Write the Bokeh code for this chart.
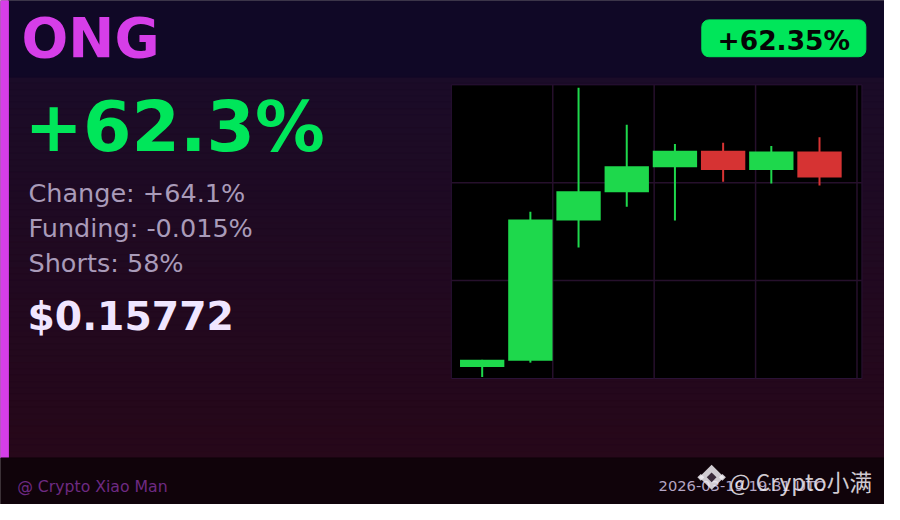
import numpy as np
from bokeh.core.properties import value
from bokeh.embed import file_html
from bokeh.models import Range1d
from bokeh.plotting import figure
from bokeh.resources import INLINE

# card texts
symbol = "ONG"
badge_text = "+62.35%"
headline = "+62.3%"
stat_lines = ["Change: +64.1%", "Funding: -0.015%", "Shorts: 58%"]
price_text = "$0.15772"
footer_left = "@ Crypto Xiao Man"
footer_right = "2026-03-19 19:31 UTC"
watermark = "@ Crypto小满"

# candles, oldest first
opens = [0.0972, 0.0992, 0.1440, 0.1530, 0.1610, 0.1663, 0.1601, 0.1660]
highs = [0.0995, 0.1468, 0.1864, 0.1746, 0.1684, 0.1688, 0.1678, 0.1706]
lows = [0.0940, 0.0986, 0.1354, 0.1484, 0.1440, 0.1564, 0.1558, 0.1552]
closes = [0.0995, 0.1443, 0.1533, 0.1613, 0.1663, 0.1601, 0.1660, 0.15772]

W, H = 900, 520          # design units
S = 884 / W              # design -> screen px
UP, DOWN = "#1ed84c", "#d63333"
FONT = "DejaVu Sans"
CJK = "Noto Sans CJK SC"


def fs(px):
    return value(f"{px * S:.1f}px")


p = figure(width=884, height=504, x_range=Range1d(0, W), y_range=Range1d(H, 0),
           x_axis_type=None, y_axis_type=None, output_backend="svg",
           toolbar_location=None, min_border=0)
p.grid.visible = False
p.outline_line_color = None
p.background_fill_color = "#10030a"
p.border_fill_color = "#10030a"

# body gradient
n = 60
ys = np.linspace(79, 472, n + 1)
c0, c1 = np.array([0x1b, 0x0c, 0x28]), np.array([0x27, 0x08, 0x1a])
cols = ["#%02x%02x%02x" % tuple(int(v) for v in c0 + (c1 - c0) * t)
        for t in np.linspace(0, 1, n)]
p.quad(left=8, right=W, top=ys[:-1], bottom=ys[1:], color=cols)

# header, accent bar, footer
p.quad(left=8, right=W, top=0, bottom=79, color="#100826")
p.quad(left=0, right=8, top=0, bottom=472, color="#d63ee8")
p.quad(left=0, right=W, top=472, bottom=520, color="#10030a")

# title + badge
p.text(x=[21.5], y=[38.6], text=[symbol], text_font=value(FONT), text_font_style="bold",
       text_font_size=fs(56), text_color="#d63ee8", text_baseline="alphabetic")
p.quad(left=714, right=881, top=20, bottom=58, color="#00e65a", border_radius=7)
p.text(x=[797.5], y=[41.5], text=[badge_text], text_font=value(FONT), text_font_style="bold",
       text_font_size=fs(27), text_color="#050505", text_align="center",
       text_baseline="alphabetic")

# left column
p.text(x=[24.5], y=[129.5], text=[headline], text_font=value(FONT), text_font_style="bold",
       text_font_size=fs(71), text_color="#00e65a", text_baseline="alphabetic")
p.text(x=[28.5] * 3, y=[199, 235, 271], text=stat_lines, text_font=value(FONT),
       text_font_size=fs(26), text_color="#a99bb9", text_baseline="alphabetic")
p.text(x=[27.5], y=[326], text=[price_text], text_font=value(FONT), text_font_style="bold",
       text_font_size=fs(40), text_color="#f0e6ff", text_baseline="alphabetic")

# candle panel
PX0, PX1, PY0, PY1 = 459, 877, 87, 390
p.quad(left=PX0, right=PX1, top=PY0, bottom=PY1, fill_color="#000000",
       line_color="#2a1236", line_width=1)
gw = (872 - PX0) / 4
gh = (PY1 - PY0) / 3
p.segment(x0=[PX0 + gw * k for k in range(1, 5)], y0=PY0,
          x1=[PX0 + gw * k for k in range(1, 5)], y1=PY1, line_color="#26102c", line_width=1.5)
p.segment(x0=PX0, y0=[PY0 + gh * k for k in (1, 2)], x1=PX1,
          y1=[PY0 + gh * k for k in (1, 2)], line_color="#26102c", line_width=1.5)

# ranges for the candles, mapped onto the panel box
idx = list(range(len(opens)))
xi0, xi1 = -0.64, len(opens) - 0.12
ymin, ymax = min(lows) * 0.995, max(highs) * 1.005
ux = (PX1 - PX0) / (xi1 - xi0)
uy = (PY1 - PY0) / (ymax - ymin)
p.extra_x_ranges = {"cx": Range1d(xi0 - PX0 / ux, xi1 + (W - PX1) / ux)}
p.extra_y_ranges = {"cy": Range1d(ymin - (H - PY1) / uy, ymax + PY0 / uy)}

colors = [UP if c >= o else DOWN for o, c in zip(opens, closes)]
p.segment(x0=idx, y0=lows, x1=idx, y1=highs, line_color=colors, line_width=2,
          x_range_name="cx", y_range_name="cy")
p.vbar(x=idx, width=0.92, top=[max(o, c) for o, c in zip(opens, closes)],
       bottom=[min(o, c) for o, c in zip(opens, closes)], fill_color=colors,
       line_color=None, x_range_name="cx", y_range_name="cy")

# footer texts
p.text(x=[17], y=[501], text=[footer_left], text_font=value(FONT), text_font_size=fs(16),
       text_color="#6e2a82", text_baseline="alphabetic")
p.text(x=[670], y=[500], text=[footer_right], text_font=value(FONT), text_font_size=fs(15),
       text_color="#b4a6c4", text_baseline="alphabetic")

# watermark
p.scatter(x=[724], y=[492], marker="square", size=18 * S, angle=np.pi / 4,
          fill_color="#f2eef4", fill_alpha=0.85, line_color=None)
p.scatter(x=[724], y=[492], marker="square", size=7 * S, angle=np.pi / 4,
          fill_color="#3a2a3a", line_color=None)
p.scatter(x=[713, 735], y=[492, 492], marker="square", size=5 * S, angle=np.pi / 4,
          fill_color="#f2eef4", fill_alpha=0.85, line_color=None)
p.text(x=[742], y=[496], text=[watermark], text_font=value(CJK), text_font_size=fs(23),
       text_color="#f4f0f6", text_alpha=0.85, text_baseline="alphabetic")

open("out.html", "w").write(file_html(p, INLINE))
